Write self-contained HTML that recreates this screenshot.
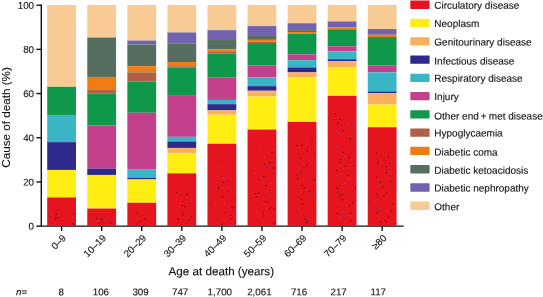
<!DOCTYPE html>
<html><head><meta charset="utf-8"><title>Cause of death by age</title>
<style>
html,body{margin:0;padding:0;background:#fff}
body{width:543px;height:297px;overflow:hidden}
svg{display:block}
text{font-family:"Liberation Sans",Arial,Helvetica,sans-serif;fill:#111;stroke:#111;stroke-width:0.12px}
.t{font-size:9.75px}
.a{font-size:11.5px}
.l{font-size:10px}
</style></head><body>
<svg width="543" height="297" viewBox="0 0 543 297">
<rect width="543" height="297" fill="#fff"/>
<g><rect x="47.20" y="5.00" width="28.8" height="81.85" fill="#f8cb94"/><rect x="47.20" y="86.85" width="28.8" height="28.10" fill="#0f9849"/><rect x="47.20" y="114.95" width="28.8" height="27.20" fill="#39b5c6"/><rect x="47.20" y="142.15" width="28.8" height="27.80" fill="#2e2a8c"/><rect x="47.20" y="169.95" width="28.8" height="27.50" fill="#ffed14"/><rect x="47.20" y="197.45" width="28.8" height="28.15" fill="#e6141e"/></g>
<g><rect x="87.27" y="5.00" width="28.8" height="32.55" fill="#f8cb94"/><rect x="87.27" y="37.55" width="28.8" height="39.40" fill="#566e60"/><rect x="87.27" y="76.95" width="28.8" height="13.10" fill="#f07d14"/><rect x="87.27" y="90.05" width="28.8" height="3.70" fill="#b06046"/><rect x="87.27" y="93.75" width="28.8" height="31.60" fill="#0f9849"/><rect x="87.27" y="125.35" width="28.8" height="43.30" fill="#c3418c"/><rect x="87.27" y="168.65" width="28.8" height="6.30" fill="#2e2a8c"/><rect x="87.27" y="174.95" width="28.8" height="33.60" fill="#ffed14"/><rect x="87.27" y="208.55" width="28.8" height="17.05" fill="#e6141e"/></g>
<g><rect x="127.34" y="5.00" width="28.8" height="35.55" fill="#f8cb94"/><rect x="127.34" y="40.55" width="28.8" height="3.90" fill="#7362b0"/><rect x="127.34" y="44.45" width="28.8" height="21.70" fill="#566e60"/><rect x="127.34" y="66.15" width="28.8" height="6.20" fill="#f07d14"/><rect x="127.34" y="72.35" width="28.8" height="9.20" fill="#b06046"/><rect x="127.34" y="81.55" width="28.8" height="31.20" fill="#0f9849"/><rect x="127.34" y="112.75" width="28.8" height="56.40" fill="#c3418c"/><rect x="127.34" y="169.15" width="28.8" height="8.80" fill="#39b5c6"/><rect x="127.34" y="177.95" width="28.8" height="1.50" fill="#2e2a8c"/><rect x="127.34" y="179.45" width="28.8" height="23.30" fill="#ffed14"/><rect x="127.34" y="202.75" width="28.8" height="22.85" fill="#e6141e"/></g>
<g><rect x="167.41" y="5.00" width="28.8" height="27.45" fill="#f8cb94"/><rect x="167.41" y="32.45" width="28.8" height="11.10" fill="#7362b0"/><rect x="167.41" y="43.55" width="28.8" height="18.50" fill="#566e60"/><rect x="167.41" y="62.05" width="28.8" height="4.10" fill="#f07d14"/><rect x="167.41" y="66.15" width="28.8" height="1.60" fill="#b06046"/><rect x="167.41" y="67.75" width="28.8" height="28.10" fill="#0f9849"/><rect x="167.41" y="95.85" width="28.8" height="41.00" fill="#c3418c"/><rect x="167.41" y="136.85" width="28.8" height="4.60" fill="#39b5c6"/><rect x="167.41" y="141.45" width="28.8" height="6.50" fill="#2e2a8c"/><rect x="167.41" y="147.95" width="28.8" height="5.00" fill="#fbb060"/><rect x="167.41" y="152.95" width="28.8" height="20.40" fill="#ffed14"/><rect x="167.41" y="173.35" width="28.8" height="52.25" fill="#e6141e"/></g>
<g><rect x="207.48" y="5.00" width="28.8" height="25.15" fill="#f8cb94"/><rect x="207.48" y="30.15" width="28.8" height="9.90" fill="#7362b0"/><rect x="207.48" y="40.05" width="28.8" height="9.20" fill="#566e60"/><rect x="207.48" y="49.25" width="28.8" height="2.10" fill="#f07d14"/><rect x="207.48" y="51.35" width="28.8" height="2.30" fill="#b06046"/><rect x="207.48" y="53.65" width="28.8" height="24.00" fill="#0f9849"/><rect x="207.48" y="77.65" width="28.8" height="22.30" fill="#c3418c"/><rect x="207.48" y="99.95" width="28.8" height="4.20" fill="#39b5c6"/><rect x="207.48" y="104.15" width="28.8" height="6.20" fill="#2e2a8c"/><rect x="207.48" y="110.35" width="28.8" height="4.40" fill="#fbb060"/><rect x="207.48" y="114.75" width="28.8" height="29.00" fill="#ffed14"/><rect x="207.48" y="143.75" width="28.8" height="81.85" fill="#e6141e"/></g>
<g><rect x="247.55" y="5.00" width="28.8" height="21.05" fill="#f8cb94"/><rect x="247.55" y="26.05" width="28.8" height="9.90" fill="#7362b0"/><rect x="247.55" y="35.95" width="28.8" height="3.90" fill="#566e60"/><rect x="247.55" y="39.85" width="28.8" height="1.80" fill="#f07d14"/><rect x="247.55" y="41.65" width="28.8" height="1.40" fill="#b06046"/><rect x="247.55" y="43.05" width="28.8" height="22.20" fill="#0f9849"/><rect x="247.55" y="65.25" width="28.8" height="12.20" fill="#c3418c"/><rect x="247.55" y="77.45" width="28.8" height="8.70" fill="#39b5c6"/><rect x="247.55" y="86.15" width="28.8" height="4.60" fill="#2e2a8c"/><rect x="247.55" y="90.75" width="28.8" height="5.80" fill="#fbb060"/><rect x="247.55" y="96.55" width="28.8" height="33.00" fill="#ffed14"/><rect x="247.55" y="129.55" width="28.8" height="96.05" fill="#e6141e"/></g>
<g><rect x="287.62" y="5.00" width="28.8" height="18.25" fill="#f8cb94"/><rect x="287.62" y="23.25" width="28.8" height="6.90" fill="#7362b0"/><rect x="287.62" y="30.15" width="28.8" height="1.90" fill="#566e60"/><rect x="287.62" y="32.05" width="28.8" height="1.80" fill="#f07d14"/><rect x="287.62" y="33.85" width="28.8" height="20.50" fill="#0f9849"/><rect x="287.62" y="54.35" width="28.8" height="5.80" fill="#c3418c"/><rect x="287.62" y="60.15" width="28.8" height="7.30" fill="#39b5c6"/><rect x="287.62" y="67.45" width="28.8" height="4.90" fill="#2e2a8c"/><rect x="287.62" y="72.35" width="28.8" height="5.10" fill="#fbb060"/><rect x="287.62" y="77.45" width="28.8" height="44.50" fill="#ffed14"/><rect x="287.62" y="121.95" width="28.8" height="103.65" fill="#e6141e"/></g>
<g><rect x="327.69" y="5.00" width="28.8" height="16.45" fill="#f8cb94"/><rect x="327.69" y="21.45" width="28.8" height="6.00" fill="#7362b0"/><rect x="327.69" y="27.45" width="28.8" height="1.80" fill="#f07d14"/><rect x="327.69" y="29.25" width="28.8" height="17.00" fill="#0f9849"/><rect x="327.69" y="46.25" width="28.8" height="5.10" fill="#c3418c"/><rect x="327.69" y="51.35" width="28.8" height="7.90" fill="#39b5c6"/><rect x="327.69" y="59.25" width="28.8" height="2.00" fill="#2e2a8c"/><rect x="327.69" y="61.25" width="28.8" height="5.90" fill="#fbb060"/><rect x="327.69" y="67.15" width="28.8" height="28.70" fill="#ffed14"/><rect x="327.69" y="95.85" width="28.8" height="129.75" fill="#e6141e"/></g>
<g><rect x="367.76" y="5.00" width="28.8" height="24.05" fill="#f8cb94"/><rect x="367.76" y="29.05" width="28.8" height="5.70" fill="#7362b0"/><rect x="367.76" y="34.75" width="28.8" height="2.30" fill="#f07d14"/><rect x="367.76" y="37.05" width="28.8" height="28.20" fill="#0f9849"/><rect x="367.76" y="65.25" width="28.8" height="7.10" fill="#c3418c"/><rect x="367.76" y="72.35" width="28.8" height="19.10" fill="#39b5c6"/><rect x="367.76" y="91.45" width="28.8" height="1.60" fill="#2e2a8c"/><rect x="367.76" y="93.05" width="28.8" height="11.50" fill="#fbb060"/><rect x="367.76" y="104.55" width="28.8" height="22.70" fill="#ffed14"/><rect x="367.76" y="127.25" width="28.8" height="98.35" fill="#e6141e"/></g>
<g><rect x="73.6" y="213.4" width="0.9" height="0.9" fill="#1c0810"/><rect x="55.7" y="213.9" width="0.9" height="0.9" fill="#1c0810"/><rect x="58.6" y="217.3" width="0.9" height="0.9" fill="#1c0810"/><rect x="55.6" y="217.3" width="0.9" height="0.9" fill="#1c0810"/><rect x="55.4" y="218.9" width="0.9" height="0.9" fill="#1c0810"/><rect x="73.6" y="224.1" width="0.9" height="0.9" fill="#1c0810"/><rect x="55.2" y="222.8" width="0.9" height="0.9" fill="#6a5fd0"/><rect x="71.8" y="223.0" width="0.9" height="0.9" fill="#1c0810"/><rect x="100.6" y="218.9" width="0.9" height="0.9" fill="#1c0810"/><rect x="96.4" y="218.0" width="0.9" height="0.9" fill="#1c0810"/><rect x="101.9" y="217.9" width="0.9" height="0.9" fill="#1c0810"/><rect x="98.5" y="223.3" width="0.9" height="0.9" fill="#1c0810"/><rect x="110.2" y="222.5" width="0.9" height="0.9" fill="#1c0810"/><rect x="101.7" y="221.8" width="0.9" height="0.9" fill="#1c0810"/><rect x="136.0" y="213.1" width="0.9" height="0.9" fill="#1c0810"/><rect x="140.2" y="221.1" width="0.9" height="0.9" fill="#1c0810"/><rect x="144.8" y="218.3" width="0.9" height="0.9" fill="#1c0810"/><rect x="135.9" y="223.5" width="0.9" height="0.9" fill="#1c0810"/><rect x="186.6" y="194.0" width="0.9" height="0.9" fill="#1c0810"/><rect x="175.8" y="192.3" width="0.9" height="0.9" fill="#1c0810"/><rect x="175.7" y="199.1" width="0.9" height="0.9" fill="#6a5fd0"/><rect x="180.2" y="203.0" width="0.9" height="0.9" fill="#6a5fd0"/><rect x="181.5" y="204.9" width="0.9" height="0.9" fill="#1c0810"/><rect x="184.5" y="206.3" width="0.9" height="0.9" fill="#1c0810"/><rect x="182.6" y="212.6" width="0.9" height="0.9" fill="#1c0810"/><rect x="182.6" y="214.0" width="0.9" height="0.9" fill="#1c0810"/><rect x="191.2" y="216.1" width="0.9" height="0.9" fill="#1c0810"/><rect x="188.4" y="219.7" width="0.9" height="0.9" fill="#1c0810"/><rect x="177.5" y="219.0" width="0.9" height="0.9" fill="#1c0810"/><rect x="217.5" y="166.9" width="0.9" height="0.9" fill="#6a5fd0"/><rect x="228.6" y="171.7" width="0.9" height="0.9" fill="#6a5fd0"/><rect x="223.8" y="178.1" width="0.9" height="0.9" fill="#6a5fd0"/><rect x="222.6" y="181.9" width="0.9" height="0.9" fill="#1c0810"/><rect x="227.5" y="180.8" width="0.9" height="0.9" fill="#1c0810"/><rect x="217.8" y="187.7" width="0.9" height="0.9" fill="#1c0810"/><rect x="216.6" y="188.5" width="0.9" height="0.9" fill="#6a5fd0"/><rect x="227.1" y="190.5" width="0.9" height="0.9" fill="#1c0810"/><rect x="227.1" y="190.8" width="0.9" height="0.9" fill="#1c0810"/><rect x="221.9" y="196.6" width="0.9" height="0.9" fill="#1c0810"/><rect x="234.8" y="197.8" width="0.9" height="0.9" fill="#1c0810"/><rect x="220.9" y="196.7" width="0.9" height="0.9" fill="#6a5fd0"/><rect x="224.3" y="202.9" width="0.9" height="0.9" fill="#6a5fd0"/><rect x="215.0" y="203.8" width="0.9" height="0.9" fill="#6a5fd0"/><rect x="233.2" y="207.6" width="0.9" height="0.9" fill="#1c0810"/><rect x="234.5" y="207.9" width="0.9" height="0.9" fill="#6a5fd0"/><rect x="231.8" y="206.7" width="0.9" height="0.9" fill="#1c0810"/><rect x="225.4" y="212.0" width="0.9" height="0.9" fill="#1c0810"/><rect x="231.1" y="217.8" width="0.9" height="0.9" fill="#1c0810"/><rect x="231.0" y="217.3" width="0.9" height="0.9" fill="#6a5fd0"/><rect x="230.9" y="215.1" width="0.9" height="0.9" fill="#1c0810"/><rect x="234.8" y="221.5" width="0.9" height="0.9" fill="#1c0810"/><rect x="234.1" y="224.5" width="0.9" height="0.9" fill="#6a5fd0"/><rect x="222.0" y="223.7" width="0.9" height="0.9" fill="#1c0810"/><rect x="258.7" y="149.2" width="0.9" height="0.9" fill="#6a5fd0"/><rect x="271.8" y="148.7" width="0.9" height="0.9" fill="#6a5fd0"/><rect x="271.7" y="151.8" width="0.9" height="0.9" fill="#1c0810"/><rect x="264.3" y="157.4" width="0.9" height="0.9" fill="#6a5fd0"/><rect x="264.0" y="163.7" width="0.9" height="0.9" fill="#1c0810"/><rect x="269.4" y="161.7" width="0.9" height="0.9" fill="#1c0810"/><rect x="273.1" y="167.5" width="0.9" height="0.9" fill="#1c0810"/><rect x="267.1" y="166.8" width="0.9" height="0.9" fill="#1c0810"/><rect x="268.0" y="165.9" width="0.9" height="0.9" fill="#6a5fd0"/><rect x="254.8" y="173.0" width="0.9" height="0.9" fill="#6a5fd0"/><rect x="263.4" y="176.4" width="0.9" height="0.9" fill="#1c0810"/><rect x="260.6" y="177.8" width="0.9" height="0.9" fill="#6a5fd0"/><rect x="263.1" y="181.7" width="0.9" height="0.9" fill="#6a5fd0"/><rect x="261.8" y="182.8" width="0.9" height="0.9" fill="#6a5fd0"/><rect x="271.3" y="183.0" width="0.9" height="0.9" fill="#6a5fd0"/><rect x="265.3" y="185.1" width="0.9" height="0.9" fill="#1c0810"/><rect x="254.6" y="193.3" width="0.9" height="0.9" fill="#1c0810"/><rect x="257.5" y="192.7" width="0.9" height="0.9" fill="#1c0810"/><rect x="266.0" y="191.6" width="0.9" height="0.9" fill="#6a5fd0"/><rect x="270.6" y="195.7" width="0.9" height="0.9" fill="#6a5fd0"/><rect x="255.7" y="196.0" width="0.9" height="0.9" fill="#1c0810"/><rect x="263.8" y="200.9" width="0.9" height="0.9" fill="#1c0810"/><rect x="263.6" y="202.9" width="0.9" height="0.9" fill="#6a5fd0"/><rect x="267.0" y="201.5" width="0.9" height="0.9" fill="#1c0810"/><rect x="271.1" y="207.2" width="0.9" height="0.9" fill="#1c0810"/><rect x="268.9" y="208.5" width="0.9" height="0.9" fill="#1c0810"/><rect x="273.5" y="208.5" width="0.9" height="0.9" fill="#1c0810"/><rect x="263.1" y="212.4" width="0.9" height="0.9" fill="#1c0810"/><rect x="263.3" y="215.4" width="0.9" height="0.9" fill="#1c0810"/><rect x="273.8" y="222.4" width="0.9" height="0.9" fill="#1c0810"/><rect x="312.8" y="138.6" width="0.9" height="0.9" fill="#6a5fd0"/><rect x="311.7" y="138.6" width="0.9" height="0.9" fill="#1c0810"/><rect x="301.6" y="144.7" width="0.9" height="0.9" fill="#1c0810"/><rect x="296.5" y="145.3" width="0.9" height="0.9" fill="#1c0810"/><rect x="309.0" y="150.2" width="0.9" height="0.9" fill="#6a5fd0"/><rect x="307.4" y="150.7" width="0.9" height="0.9" fill="#1c0810"/><rect x="314.5" y="153.0" width="0.9" height="0.9" fill="#1c0810"/><rect x="300.2" y="157.3" width="0.9" height="0.9" fill="#1c0810"/><rect x="302.9" y="164.3" width="0.9" height="0.9" fill="#6a5fd0"/><rect x="306.3" y="164.9" width="0.9" height="0.9" fill="#1c0810"/><rect x="303.3" y="166.9" width="0.9" height="0.9" fill="#1c0810"/><rect x="296.3" y="174.7" width="0.9" height="0.9" fill="#1c0810"/><rect x="300.0" y="172.2" width="0.9" height="0.9" fill="#1c0810"/><rect x="303.2" y="179.3" width="0.9" height="0.9" fill="#6a5fd0"/><rect x="297.3" y="177.9" width="0.9" height="0.9" fill="#1c0810"/><rect x="313.9" y="179.5" width="0.9" height="0.9" fill="#1c0810"/><rect x="313.7" y="181.9" width="0.9" height="0.9" fill="#6a5fd0"/><rect x="303.8" y="187.5" width="0.9" height="0.9" fill="#1c0810"/><rect x="301.7" y="185.2" width="0.9" height="0.9" fill="#1c0810"/><rect x="309.6" y="190.6" width="0.9" height="0.9" fill="#1c0810"/><rect x="313.8" y="193.9" width="0.9" height="0.9" fill="#6a5fd0"/><rect x="305.8" y="201.2" width="0.9" height="0.9" fill="#6a5fd0"/><rect x="300.9" y="198.8" width="0.9" height="0.9" fill="#1c0810"/><rect x="302.9" y="203.6" width="0.9" height="0.9" fill="#1c0810"/><rect x="296.1" y="210.6" width="0.9" height="0.9" fill="#1c0810"/><rect x="296.4" y="215.5" width="0.9" height="0.9" fill="#6a5fd0"/><rect x="306.9" y="220.2" width="0.9" height="0.9" fill="#1c0810"/><rect x="304.0" y="218.3" width="0.9" height="0.9" fill="#1c0810"/><rect x="305.8" y="222.1" width="0.9" height="0.9" fill="#1c0810"/><rect x="334.7" y="113.3" width="0.9" height="0.9" fill="#1c0810"/><rect x="339.8" y="118.9" width="0.9" height="0.9" fill="#1c0810"/><rect x="337.6" y="122.4" width="0.9" height="0.9" fill="#1c0810"/><rect x="347.6" y="124.2" width="0.9" height="0.9" fill="#6a5fd0"/><rect x="352.2" y="124.5" width="0.9" height="0.9" fill="#6a5fd0"/><rect x="342.7" y="130.5" width="0.9" height="0.9" fill="#1c0810"/><rect x="337.8" y="131.9" width="0.9" height="0.9" fill="#6a5fd0"/><rect x="337.7" y="132.3" width="0.9" height="0.9" fill="#6a5fd0"/><rect x="349.7" y="137.9" width="0.9" height="0.9" fill="#1c0810"/><rect x="353.3" y="137.7" width="0.9" height="0.9" fill="#6a5fd0"/><rect x="351.6" y="142.7" width="0.9" height="0.9" fill="#6a5fd0"/><rect x="336.4" y="146.0" width="0.9" height="0.9" fill="#6a5fd0"/><rect x="342.4" y="151.9" width="0.9" height="0.9" fill="#1c0810"/><rect x="348.6" y="157.1" width="0.9" height="0.9" fill="#1c0810"/><rect x="344.1" y="155.6" width="0.9" height="0.9" fill="#6a5fd0"/><rect x="353.1" y="155.7" width="0.9" height="0.9" fill="#6a5fd0"/><rect x="339.9" y="159.3" width="0.9" height="0.9" fill="#1c0810"/><rect x="339.5" y="161.7" width="0.9" height="0.9" fill="#1c0810"/><rect x="344.8" y="165.7" width="0.9" height="0.9" fill="#1c0810"/><rect x="353.4" y="165.4" width="0.9" height="0.9" fill="#1c0810"/><rect x="336.3" y="169.9" width="0.9" height="0.9" fill="#1c0810"/><rect x="347.4" y="175.0" width="0.9" height="0.9" fill="#1c0810"/><rect x="335.9" y="175.5" width="0.9" height="0.9" fill="#6a5fd0"/><rect x="348.5" y="179.3" width="0.9" height="0.9" fill="#6a5fd0"/><rect x="344.2" y="182.9" width="0.9" height="0.9" fill="#6a5fd0"/><rect x="338.8" y="185.9" width="0.9" height="0.9" fill="#1c0810"/><rect x="336.3" y="187.8" width="0.9" height="0.9" fill="#1c0810"/><rect x="355.1" y="187.4" width="0.9" height="0.9" fill="#1c0810"/><rect x="337.6" y="191.6" width="0.9" height="0.9" fill="#1c0810"/><rect x="340.4" y="194.0" width="0.9" height="0.9" fill="#1c0810"/><rect x="339.4" y="196.7" width="0.9" height="0.9" fill="#1c0810"/><rect x="342.8" y="194.1" width="0.9" height="0.9" fill="#1c0810"/><rect x="340.9" y="199.3" width="0.9" height="0.9" fill="#1c0810"/><rect x="342.4" y="199.2" width="0.9" height="0.9" fill="#1c0810"/><rect x="351.9" y="202.7" width="0.9" height="0.9" fill="#1c0810"/><rect x="349.3" y="205.4" width="0.9" height="0.9" fill="#1c0810"/><rect x="342.7" y="209.9" width="0.9" height="0.9" fill="#6a5fd0"/><rect x="350.2" y="213.1" width="0.9" height="0.9" fill="#1c0810"/><rect x="336.8" y="213.0" width="0.9" height="0.9" fill="#1c0810"/><rect x="339.8" y="216.1" width="0.9" height="0.9" fill="#6a5fd0"/><rect x="350.8" y="221.0" width="0.9" height="0.9" fill="#1c0810"/><rect x="351.3" y="221.7" width="0.9" height="0.9" fill="#6a5fd0"/><rect x="375.8" y="152.6" width="0.9" height="0.9" fill="#1c0810"/><rect x="388.0" y="156.0" width="0.9" height="0.9" fill="#1c0810"/><rect x="377.4" y="162.5" width="0.9" height="0.9" fill="#1c0810"/><rect x="380.5" y="161.7" width="0.9" height="0.9" fill="#6a5fd0"/><rect x="394.8" y="161.7" width="0.9" height="0.9" fill="#6a5fd0"/><rect x="386.2" y="166.3" width="0.9" height="0.9" fill="#1c0810"/><rect x="387.9" y="165.2" width="0.9" height="0.9" fill="#6a5fd0"/><rect x="386.0" y="172.3" width="0.9" height="0.9" fill="#1c0810"/><rect x="395.2" y="172.3" width="0.9" height="0.9" fill="#1c0810"/><rect x="376.6" y="176.7" width="0.9" height="0.9" fill="#1c0810"/><rect x="380.1" y="181.8" width="0.9" height="0.9" fill="#1c0810"/><rect x="390.1" y="181.3" width="0.9" height="0.9" fill="#1c0810"/><rect x="382.5" y="186.4" width="0.9" height="0.9" fill="#1c0810"/><rect x="394.6" y="190.4" width="0.9" height="0.9" fill="#6a5fd0"/><rect x="385.6" y="192.7" width="0.9" height="0.9" fill="#1c0810"/><rect x="376.7" y="193.1" width="0.9" height="0.9" fill="#1c0810"/><rect x="383.6" y="195.5" width="0.9" height="0.9" fill="#1c0810"/><rect x="377.4" y="195.9" width="0.9" height="0.9" fill="#1c0810"/><rect x="374.8" y="201.7" width="0.9" height="0.9" fill="#6a5fd0"/><rect x="392.3" y="203.8" width="0.9" height="0.9" fill="#1c0810"/><rect x="377.9" y="207.7" width="0.9" height="0.9" fill="#6a5fd0"/><rect x="376.5" y="212.3" width="0.9" height="0.9" fill="#1c0810"/><rect x="390.8" y="210.4" width="0.9" height="0.9" fill="#1c0810"/><rect x="394.5" y="216.9" width="0.9" height="0.9" fill="#6a5fd0"/><rect x="387.8" y="217.2" width="0.9" height="0.9" fill="#1c0810"/><rect x="385.5" y="220.5" width="0.9" height="0.9" fill="#1c0810"/><rect x="380.1" y="221.2" width="0.9" height="0.9" fill="#1c0810"/><rect x="395.2" y="223.0" width="0.9" height="0.9" fill="#1c0810"/></g>
<g fill="none" stroke="#111" stroke-width="1.4"><path d="M41.3 4.5V226.15H403.7"/><path d="M36.4 5.20H41.3"/><path d="M36.4 49.38H41.3"/><path d="M36.4 93.56H41.3"/><path d="M36.4 137.74H41.3"/><path d="M36.4 181.92H41.3"/><path d="M36.4 226.10H41.3"/><path d="M61.60 226V231"/><path d="M101.67 226V231"/><path d="M141.74 226V231"/><path d="M181.81 226V231"/><path d="M221.88 226V231"/><path d="M261.95 226V231"/><path d="M302.02 226V231"/><path d="M342.09 226V231"/><path d="M382.16 226V231"/></g>
<text class="t" text-anchor="end" transform="translate(34.0 8.70) rotate(0.03)">100</text><text class="t" text-anchor="end" transform="translate(34.0 52.88) rotate(0.03)">80</text><text class="t" text-anchor="end" transform="translate(34.0 97.06) rotate(0.03)">60</text><text class="t" text-anchor="end" transform="translate(34.0 141.24) rotate(0.03)">40</text><text class="t" text-anchor="end" transform="translate(34.0 185.42) rotate(0.03)">20</text><text class="t" text-anchor="end" transform="translate(34.0 229.60) rotate(0.03)">0</text>
<text class="t" text-anchor="end" transform="translate(66.70 238.60) rotate(-45)">0–9</text><text class="t" text-anchor="end" transform="translate(106.77 238.60) rotate(-45)">10–19</text><text class="t" text-anchor="end" transform="translate(146.84 238.60) rotate(-45)">20–29</text><text class="t" text-anchor="end" transform="translate(186.91 238.60) rotate(-45)">30–39</text><text class="t" text-anchor="end" transform="translate(226.98 238.60) rotate(-45)">40–49</text><text class="t" text-anchor="end" transform="translate(267.05 238.60) rotate(-45)">50–59</text><text class="t" text-anchor="end" transform="translate(307.12 238.60) rotate(-45)">60–69</text><text class="t" text-anchor="end" transform="translate(347.19 238.60) rotate(-45)">70–79</text><text class="t" text-anchor="end" transform="translate(387.26 238.60) rotate(-45)">≥80</text>
<text class="t" text-anchor="middle" transform="translate(61.30 295.3) rotate(0.03)">8</text><text class="t" text-anchor="middle" transform="translate(100.92 295.3) rotate(0.03)">106</text><text class="t" text-anchor="middle" transform="translate(140.54 295.3) rotate(0.03)">309</text><text class="t" text-anchor="middle" transform="translate(180.16 295.3) rotate(0.03)">747</text><text class="t" text-anchor="middle" transform="translate(219.78 295.3) rotate(0.03)">1,700</text><text class="t" text-anchor="middle" transform="translate(259.40 295.3) rotate(0.03)">2,061</text><text class="t" text-anchor="middle" transform="translate(299.02 295.3) rotate(0.03)">716</text><text class="t" text-anchor="middle" transform="translate(338.64 295.3) rotate(0.03)">217</text><text class="t" text-anchor="middle" transform="translate(378.26 295.3) rotate(0.03)">117</text>
<text class="t" transform="translate(16.1 295.3) rotate(0.03)"><tspan font-style="italic">n</tspan>=</text>
<text class="a" style="font-size:11.65px" transform="translate(168.6 275.3) rotate(0.03)">Age at death (years)</text>
<text class="a" style="font-size:11.7px" transform="translate(10.1 167.8) rotate(-90)">Cause of death (%)</text>
<rect x="410.3" y="0.60" width="19.3" height="8.4" rx="0.9" fill="#e6141e"/><text class="l" transform="translate(434.3 8.80) rotate(0.03)">Circulatory disease</text>
<rect x="410.3" y="18.87" width="19.3" height="8.4" rx="0.9" fill="#ffed14"/><text class="l" transform="translate(434.3 27.10) rotate(0.03)">Neoplasm</text>
<rect x="410.3" y="37.13" width="19.3" height="8.4" rx="0.9" fill="#fbb060"/><text class="l" transform="translate(434.3 45.50) rotate(0.03)">Genitourinary disease</text>
<rect x="410.3" y="55.40" width="19.3" height="8.4" rx="0.9" fill="#2e2a8c"/><text class="l" transform="translate(434.3 64.50) rotate(0.03)">Infectious disease</text>
<rect x="410.3" y="73.66" width="19.3" height="8.4" rx="0.9" fill="#39b5c6"/><text class="l" transform="translate(434.3 81.80) rotate(0.03)">Respiratory disease</text>
<rect x="410.3" y="91.92" width="19.3" height="8.4" rx="0.9" fill="#c3418c"/><text class="l" transform="translate(434.3 100.00) rotate(0.03)">Injury</text>
<rect x="410.3" y="110.19" width="19.3" height="8.4" rx="0.9" fill="#0f9849"/><text class="l" transform="translate(434.3 119.40) rotate(0.03)">Other end<tspan dx="2.0">+</tspan><tspan dx="2.2">met disease</tspan></text>
<rect x="410.3" y="128.46" width="19.3" height="8.4" rx="0.9" fill="#b06046"/><text class="l" transform="translate(434.3 136.50) rotate(0.03)">Hypoglycaemia</text>
<rect x="410.3" y="146.72" width="19.3" height="8.4" rx="0.9" fill="#f07d14"/><text class="l" transform="translate(434.3 155.60) rotate(0.03)">Diabetic coma</text>
<rect x="410.3" y="164.98" width="19.3" height="8.4" rx="0.9" fill="#566e60"/><text class="l" transform="translate(434.3 173.80) rotate(0.03)">Diabetic ketoacidosis</text>
<rect x="410.3" y="183.25" width="19.3" height="8.4" rx="0.9" fill="#7362b0"/><text class="l" transform="translate(434.3 191.40) rotate(0.03)">Diabetic nephropathy</text>
<rect x="410.3" y="201.52" width="19.3" height="8.4" rx="0.9" fill="#f8cb94"/><text class="l" transform="translate(434.3 210.30) rotate(0.03)">Other</text>
</svg>
</body></html>
